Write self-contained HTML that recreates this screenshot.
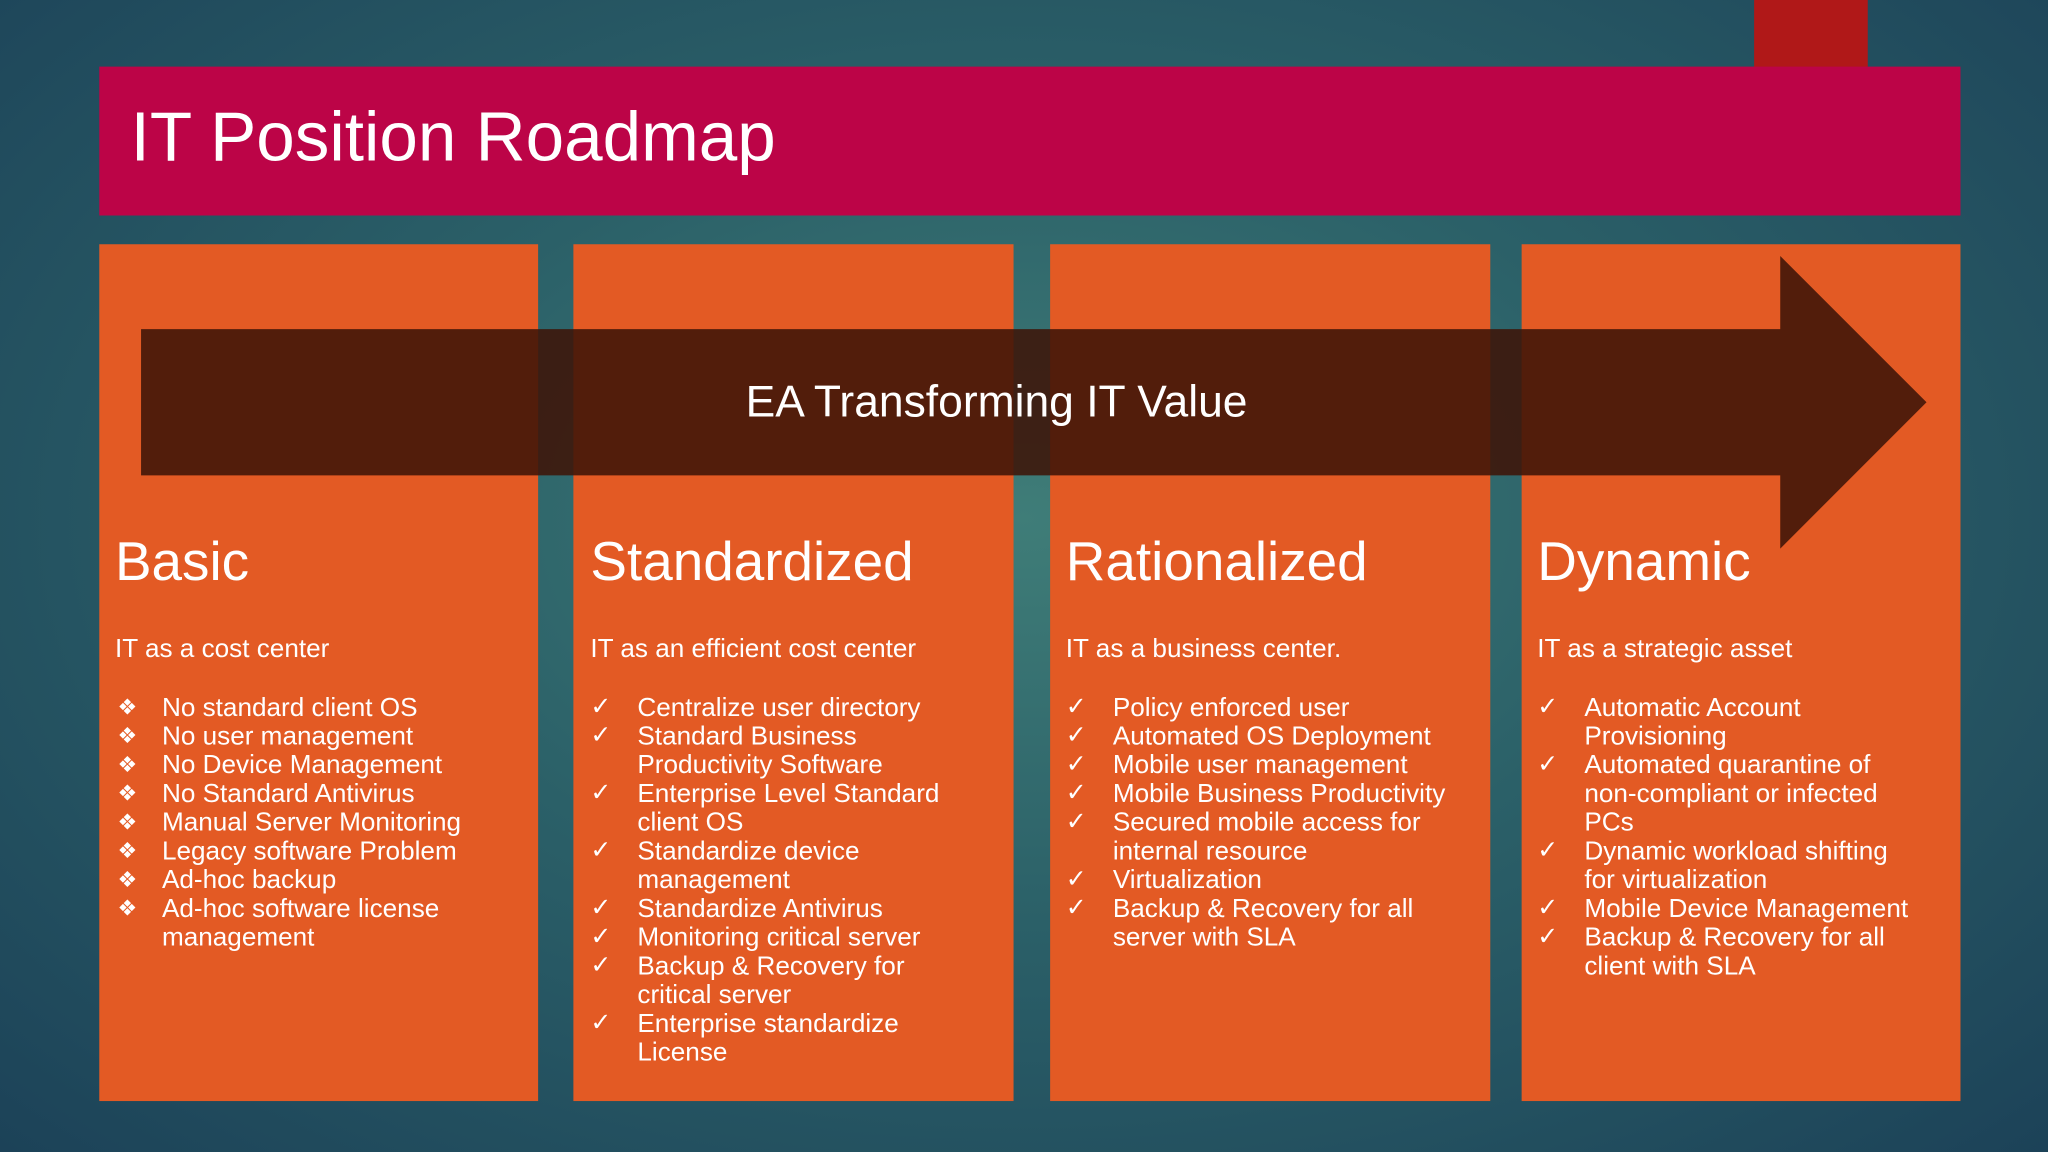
<!DOCTYPE html>
<html><head><meta charset="utf-8"><style>
html,body{margin:0;padding:0;width:2048px;height:1152px;overflow:hidden;}
body{background:radial-gradient(ellipse at 50% 45%,#3f7d78 0%,#2b6068 45%,#1c4258 100%);font-family:"Liberation Sans",sans-serif;color:#fff;}
#s{position:absolute;left:0;top:0;width:1568px;height:882px;transform:scale(1.30612);transform-origin:0 0;}
.a{position:absolute;}
.col{position:absolute;top:187px;height:656px;background:#e35a24;}
h2{position:absolute;margin:0;font-weight:normal;font-size:42px;top:406px;white-space:nowrap;}
.sub{position:absolute;top:486px;font-size:20px;white-space:nowrap;}
ul{position:absolute;top:531px;margin:0;padding:0;list-style:none;font-size:20px;line-height:22px;white-space:nowrap;}
li{position:relative;padding-left:36px;}
li:before{position:absolute;left:0;top:0;}
.d li:before{content:"❖";font-size:17px;left:2px;}
.c li:before{content:"✓";font-size:19px;}
</style></head><body><div id="s">
<div class="a" style="left:1343px;top:0;width:87px;height:52px;background:#b01818"></div>
<div class="a" style="left:76px;top:51px;width:1425px;height:114px;background:#bc0447"></div>
<div class="a" style="left:100px;top:75px;font-size:53px;white-space:nowrap">IT Position Roadmap</div>
<div class="col" style="left:76px;width:336px"></div>
<div class="col" style="left:439px;width:337px"></div>
<div class="col" style="left:804px;width:337px"></div>
<div class="col" style="left:1165px;width:336px"></div>
<svg class="a" style="left:0;top:0" width="1568" height="882"><polygon points="108,252 1363,252 1363,196 1475,308 1363,420 1363,364 108,364" fill="#3e1408" fill-opacity="0.88"/></svg>
<div class="a" style="left:108px;top:289px;width:1310px;text-align:center;font-size:34px;white-space:nowrap">EA Transforming IT Value</div>

<h2 style="left:88px">Basic</h2>
<div class="sub" style="left:88px">IT as a cost center</div>
<ul class="d" style="left:88px"><li>No standard client OS</li><li>No user management</li><li>No Device Management</li><li>No Standard Antivirus</li><li>Manual Server Monitoring</li><li>Legacy software Problem</li><li>Ad-hoc backup</li><li>Ad-hoc software license<br>management</li></ul>

<h2 style="left:452px">Standardized</h2>
<div class="sub" style="left:452px">IT as an efficient cost center</div>
<ul class="c" style="left:452px"><li>Centralize user directory</li><li>Standard Business<br>Productivity Software</li><li>Enterprise Level Standard<br>client OS</li><li>Standardize device<br>management</li><li>Standardize Antivirus</li><li>Monitoring critical server</li><li>Backup &amp; Recovery for<br>critical server</li><li>Enterprise standardize<br>License</li></ul>

<h2 style="left:816px">Rationalized</h2>
<div class="sub" style="left:816px">IT as a business center.</div>
<ul class="c" style="left:816px"><li>Policy enforced user</li><li>Automated OS Deployment</li><li>Mobile user management</li><li>Mobile Business Productivity</li><li>Secured mobile access for<br>internal resource</li><li>Virtualization</li><li>Backup &amp; Recovery for all<br>server with SLA</li></ul>

<h2 style="left:1177px">Dynamic</h2>
<div class="sub" style="left:1177px">IT as a strategic asset</div>
<ul class="c" style="left:1177px"><li>Automatic Account<br>Provisioning</li><li>Automated quarantine of<br>non-compliant or infected<br>PCs</li><li>Dynamic workload shifting<br>for virtualization</li><li>Mobile Device Management</li><li>Backup &amp; Recovery for all<br>client with SLA</li></ul>
</div></body></html>
